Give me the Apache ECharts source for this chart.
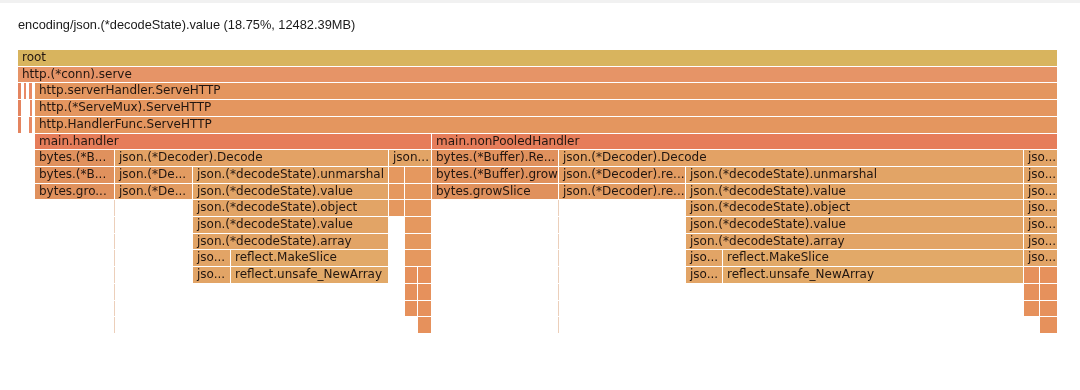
<!DOCTYPE html>
<html>
<head>
<meta charset="utf-8">
<script src="https://cdn.jsdelivr.net/npm/echarts@6/dist/echarts.min.js"></script>
<style>
html,body{margin:0;padding:0;background:#fff;}
#c{width:1080px;height:390px;}
</style>
</head>
<body>
<div id="c"></div>
<script>
// Flame graph frames (units: sample share, root = 1040)
const frameLevel = [
  0,
  1,
  2,2,2,2,
  3,3,3,
  4,4,4,
  5,5,
  6,6,6,6,6,6,
  7,7,7,7,7,7,7,7,7,
  8,8,8,8,8,8,8,8,8,
  9,9,9,9,9,
  10,10,10,10,
  11,11,11,11,
  12,12,12,12,12,12,
  13,13,13,13,13,13,13,13,
  14,14,14,14,
  15,15,15,15,
  16,16,
  9,10,11,12,13,14,15,16,
  9,10,11,12,13,14,15,16
];
const frameStart = [
  0,
  0,
  0,6,11,17,
  0,12,17,
  0,11,17,
  17,414,
  17,97,371,414,541,1006,
  17,97,175,371,387,414,541,668,1006,
  17,97,175,371,387,414,541,668,1006,
  175,371,387,668,1006,
  175,387,668,1006,
  175,387,668,1006,
  175,213,387,668,705,1006,
  175,213,387,400,668,705,1006,1022,
  387,400,1006,1022,
  387,400,1006,1022,
  400,1022,
  96,96,96,96,96,96,96,96,
  540,540,540,540,540,540,540,540
];
const frameEnd = [
  1040,
  1040,
  4,9,15,1040,
  4,15,1040,
  4,15,1040,
  414,1040,
  97,371,414,541,1006,1040,
  97,175,371,387,414,541,668,1006,1040,
  97,175,371,387,414,541,668,1006,1040,
  371,387,414,1006,1040,
  371,414,1006,1040,
  371,414,1006,1040,
  213,371,414,705,1006,1040,
  213,371,400,414,705,1006,1022,1040,
  400,414,1022,1040,
  400,414,1022,1040,
  414,1040,
  97,97,97,97,97,97,97,97,
  541,541,541,541,541,541,541,541
];
const frameLabel = [
  "root",
  "http.(*conn).serve",
  "","","","http.serverHandler.ServeHTTP",
  "","","http.(*ServeMux).ServeHTTP",
  "","","http.HandlerFunc.ServeHTTP",
  "main.handler","main.nonPooledHandler",
  "bytes.(*B...","json.(*Decoder).Decode","json...","bytes.(*Buffer).Re...","json.(*Decoder).Decode","jso...",
  "bytes.(*B...","json.(*De...","json.(*decodeState).unmarshal","","","bytes.(*Buffer).grow","json.(*Decoder).re...","json.(*decodeState).unmarshal","jso...",
  "bytes.gro...","json.(*De...","json.(*decodeState).value","","","bytes.growSlice","json.(*Decoder).re...","json.(*decodeState).value","jso...",
  "json.(*decodeState).object","","","json.(*decodeState).object","jso...",
  "json.(*decodeState).value","","json.(*decodeState).value","jso...",
  "json.(*decodeState).array","","json.(*decodeState).array","jso...",
  "jso...","reflect.MakeSlice","","jso...","reflect.MakeSlice","jso...",
  "jso...","reflect.unsafe_NewArray","","","jso...","reflect.unsafe_NewArray","","",
  "","","","",
  "","","","",
  "","",
  "","","","","","","","",
  "","","","","","","",""
];
const titleText = "encoding/json.(*decodeState).value (18.75%, 12482.39MB)";

function frameColor(label, level, start, end) {
  if (label === "root") return "#d8b45e";
  if (label.indexOf("http.(*conn)") === 0) return "#e69467";
  if (label.indexOf("http.") === 0) return "#e4965f";
  if (label.indexOf("main.") === 0) return "#e67d5a";
  if (label.indexOf("bytes.") === 0) return "#e0915d";
  if (label.indexOf("reflect.") === 0) return "#e2a968";
  if (label.indexOf("json.(*Decoder).Decode") === 0) return "#e3a265";
  if (label.indexOf("json.(*De") === 0) return "#e29b61";
  if (label.indexOf("json") === 0 || label.indexOf("jso") === 0) return "#e2a466";
  if (end - start <= 1) return "#eccfba";
  if (level <= 4) return (start === 0 ? "#e4845f" : "#e88a66");
  if (level >= 13) return "#e6915c";
  return "#e5985f";
}

const data = frameLevel.map((l, i) => [l, frameStart[i], frameEnd[i], i]);

const chart = echarts.init(document.getElementById('c'), null, {renderer: 'canvas'});
chart.setOption({
  animation: false,
  backgroundColor: '#ffffff',
  title: {
    text: titleText, left: 18, top: 19, padding: 0,
    textStyle: {fontSize: 12.8, fontWeight: 'normal', color: '#1a1a1a', fontFamily: 'Liberation Sans, Arial, sans-serif'}
  },
  graphic: [{type: 'rect', shape: {x: 0, y: 0, width: 1080, height: 3}, style: {fill: '#f1f1f1'}}],
  grid: {left: 18, top: 50, width: 1040, height: 284},
  xAxis: {type: 'value', min: 0, max: 1040, show: false},
  yAxis: {type: 'value', min: 0, max: 17, inverse: true, show: false},
  series: [{
    type: 'custom',
    coordinateSystem: 'cartesian2d',
    data: data,
    encode: {x: [1, 2], y: 0},
    renderItem: function (params, api) {
      const lvl = api.value(0), s = api.value(1), e = api.value(2), idx = api.value(3);
      const p0 = api.coord([s, lvl]);
      const p1 = api.coord([e, lvl + 1]);
      const x = Math.round(p0[0]), y = Math.round(p0[1]);
      const w = Math.max(1, Math.round(p1[0]) - x - 1);
      const h = Math.round(p1[1]) - y - 1;
      const label = frameLabel[idx];
      const el = {
        type: 'rect',
        shape: {x: x, y: y, width: w, height: h},
        style: {fill: frameColor(label, lvl, s, e)}
      };
      if (label) {
        el.textContent = {
          style: {text: label, fill: '#221610', font: '12px "DejaVu Sans", Verdana, sans-serif'}
        };
        el.textConfig = {position: 'insideLeft', distance: 4};
      }
      return el;
    }
  }]
});
</script>
</body>
</html>
